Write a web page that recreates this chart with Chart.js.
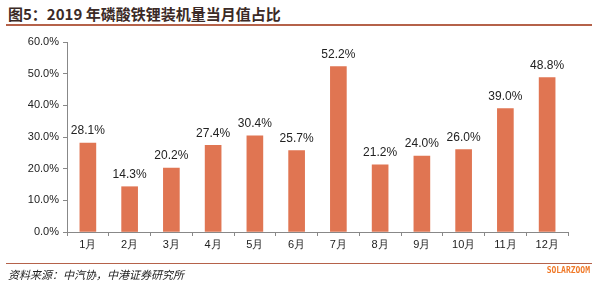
<!DOCTYPE html>
<html>
<head>
<meta charset="utf-8">
<script src="https://cdn.jsdelivr.net/npm/chart.js@4"></script>
<style>
  body { margin: 0; background: #fff; }
  #wrap { position: relative; width: 600px; height: 291px; overflow: hidden; }
  #title { position: absolute; left: 8px; top: 3px; font: bold 15px "Noto Sans CJK SC", sans-serif; color: #3b2a26; }
  #rule1 { position: absolute; left: 6px; top: 24px; width: 586px; height: 2px; background: #b5624a; }
  #rule2 { position: absolute; left: 6px; top: 263px; width: 586px; height: 1px; background: #b5624a; }
  #src { position: absolute; left: 8px; top: 266px; font: italic 11px "Noto Sans CJK SC", sans-serif; color: #222; }
  #logo { position: absolute; right: 10px; top: 266px; font: bold 8px "DejaVu Sans Mono", monospace; color: #f07a2a; }
  canvas { position: absolute; left: 0; top: 0; }
</style>
</head>
<body>
<div id="wrap">
  <div id="title">图5：2019 年磷酸铁锂装机量当月值占比</div>
  <div id="rule1"></div>
  <canvas id="chart" width="600" height="291"></canvas>
  <div id="rule2"></div>
  <div id="src">资料来源：中汽协，中港证券研究所</div>
  <div id="logo">SOLARZOOM</div>
</div>
<script>
// Monthly share values (%)
const months = ['1月', '2月', '3月', '4月', '5月', '6月', '7月', '8月', '9月', '10月', '11月', '12月'];
const shares = [28.1, 14.3, 20.2, 27.4, 30.4, 25.7, 52.2, 21.2, 24.0, 26.0, 39.0, 48.8];

// Value labels above bars
const barLabels = {
  id: 'barLabels',
  afterDatasetsDraw(chart) {
    const ctx = chart.ctx;
    const meta = chart.getDatasetMeta(0);
    ctx.save();
    ctx.font = '12px "Liberation Sans", Arial, sans-serif';
    ctx.fillStyle = '#222';
    ctx.textAlign = 'center';
    ctx.textBaseline = 'middle';
    meta.data.forEach((bar, i) => {
      ctx.fillText(shares[i].toFixed(1) + '%', bar.x, bar.y - 12);
    });
    ctx.restore();
  }
};

new Chart(document.getElementById('chart'), {
  type: 'bar',
  data: {
    labels: months,
    datasets: [{
      data: shares,
      backgroundColor: '#e07552',
      barThickness: 16
    }]
  },
  options: {
    responsive: false,
    animation: false,
    layout: { padding: { top: 42, right: 32, bottom: 39, left: 0 } },
    plugins: { legend: { display: false }, tooltip: { enabled: false } },
    scales: {
      x: {
        afterFit(scale) { scale.height = 20; },
        grid: { drawOnChartArea: false, tickLength: 4, color: '#888', offset: true },
        border: { color: '#888', width: 1 },
        ticks: { color: '#222', font: { size: 11, family: '"Liberation Sans", Arial, sans-serif' }, padding: 2 }
      },
      y: {
        min: 0, max: 60,
        afterFit(scale) { scale.width = 67; },
        grid: { drawOnChartArea: false, tickLength: 4, color: '#888' },
        border: { color: '#888', width: 1 },
        ticks: {
          stepSize: 10,
          color: '#222',
          font: { size: 11, family: '"Liberation Sans", Arial, sans-serif' },
          padding: 4,
          callback: v => v.toFixed(1) + '%'
        }
      }
    }
  },
  plugins: [barLabels]
});
</script>
</body>
</html>
